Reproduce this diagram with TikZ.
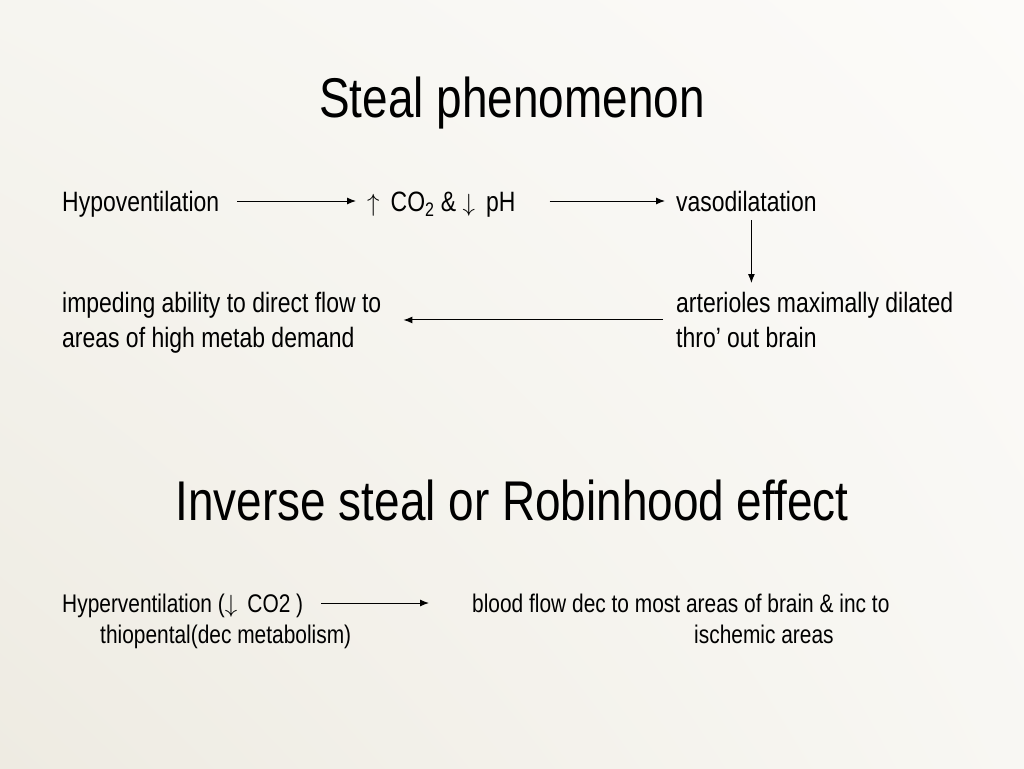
\documentclass[tikz,border=0pt]{standalone}
\usepackage{fontspec}
\setmainfont[FakeStretch=0.82]{Liberation Sans}
\usepackage{tikz}
\usetikzlibrary{shadings,arrows.meta}
\definecolor{black}{rgb}{0,0,0}
\definecolor{paperul}{RGB}{246,245,240}
\definecolor{paperur}{RGB}{252,251,249}
\definecolor{paperll}{RGB}{238,235,226}
\definecolor{paperlr}{RGB}{248,247,243}

\begin{document}
\begin{tikzpicture}[x=1pt,y=-1pt]
    \tikzstyle{word}=[inner sep=0pt,anchor=base west,text height=20pt,text depth=0pt,font=\fontsize{28}{35}\selectfont]
    \tikzstyle{para}=[inner sep=0pt,anchor=north west,align=left,font=\fontsize{28}{35}\selectfont]
    \tikzstyle{small}=[inner sep=0pt,anchor=base west,text height=18pt,text depth=0pt,font=\fontsize{25.5}{31}\selectfont]
    \tikzstyle{head}=[inner sep=0pt,anchor=base,font=\fontsize{56}{60}\selectfont]
    \pgfsetarrowsend{Latex[length=9pt,width=7pt]}
    \tikzstyle{fwd} = [draw=black, line width=1pt]

    \def\lx{62}
    \def\rx{676}

    % background
    \shade[upper left=paperul, upper right=paperur, lower left=paperll, lower right=paperlr]
        (0,0) rectangle (1024,768);
    \useasboundingbox (0,0) rectangle (1024,768);

    % steal phenomenon
    \node[head]  (t1) at (512,117) {Steal phenomenon};

    \node[word]  (hypo) at (\lx,211) {Hypoventilation};
    \node[word]  (co2)  at (367,211) {$\uparrow$\, CO\textsubscript{2} \& $\downarrow$\, pH};
    \node[word]  (vaso) at (\rx,211) {vasodilatation};

    \node[para]  (imped) at (\lx,292) {impeding ability to direct flow to\\areas of high metab demand};
    \node[para]  (arter) at (\rx,292) {arterioles maximally dilated\\thro’ out brain};

   \draw [fwd, shorten <=18pt, shorten >=11pt] (hypo.east) -- (co2.west);
   \draw [fwd, shorten <=34pt, shorten >=11pt] (co2.east) -- (vaso.west);
   \draw [fwd, shorten <=9pt, shorten >=9pt] ([xshift=5pt]vaso.south) -- ([xshift=5pt]vaso.south |- arter.north);
   \draw [fwd, shorten <=13pt, shorten >=22pt] (arter.west) -- (arter.west -| imped.east);

    % inverse steal
    \node[head]  (t2) at (512,520) {Inverse steal or Robinhood effect};

    \node[small] (hyper)  at (\lx,612) {Hyperventilation ($\downarrow$\, CO2 )};
    \node[small] (thio)   at (100,643) {thiopental(dec metabolism)};
    \node[small] (bflow)  at (472,612) {blood flow dec to most areas of brain \& inc to};
    \node[small] (isch)   at (694,643) {ischemic areas};

   \draw [fwd, shorten <=18pt, shorten >=43pt] (hyper.east) -- (bflow.west);

\end{tikzpicture}
\end{document}
